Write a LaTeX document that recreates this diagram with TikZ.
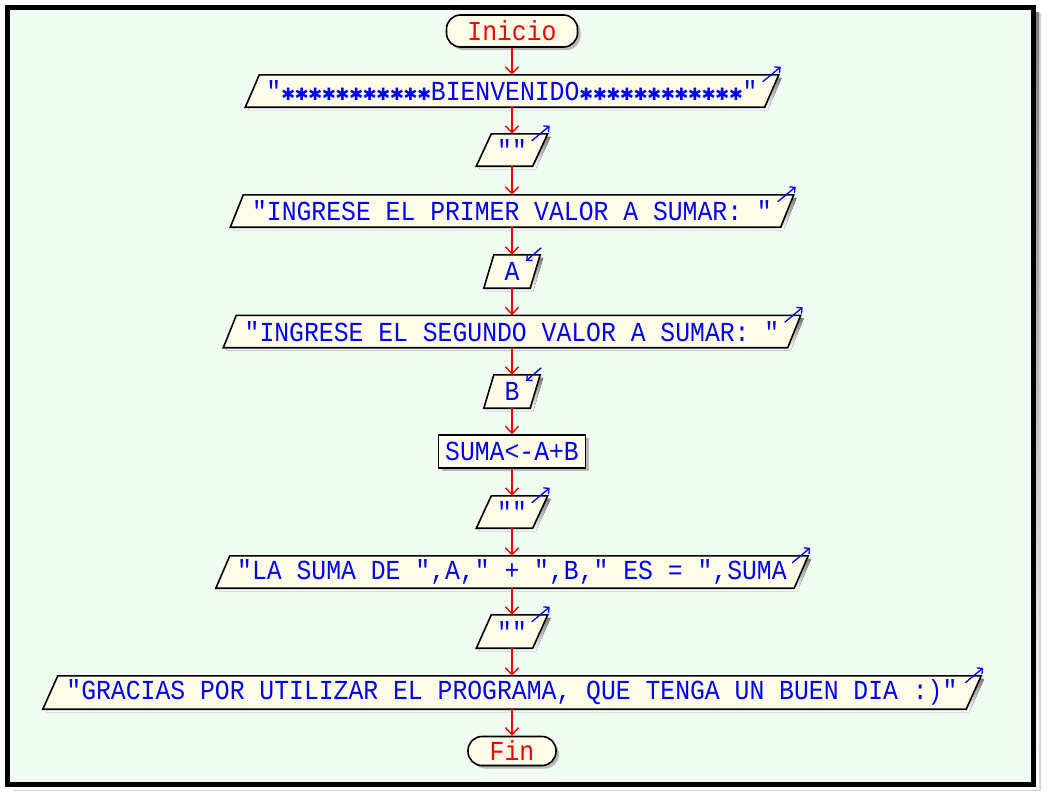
\documentclass[tikz,border=0pt]{standalone}
\usepackage{fontspec}
\newfontfamily\pfont[FakeStretch=0.9]{Liberation Mono}
\newfontfamily\djv{DejaVu Sans}
\usetikzlibrary{arrows.meta,calc,shadows}
\definecolor{mint}{HTML}{F0FCF2}
\definecolor{cream}{HTML}{FFFDE8}
\definecolor{pblue}{HTML}{0000F0}
\definecolor{pred}{HTML}{F00000}
\definecolor{shade}{HTML}{B8B8B8}
\pgfdeclarelayer{bg0}
\pgfdeclarelayer{shapes}
\pgfsetlayers{bg0,shapes,main}
\newcommand\pgram[2]{%
  \begin{pgfonlayer}{shapes}
  \fill[shade] ($(#1.south west)+(-#2+3,3)$) -- ($(#1.north west)+(#2+3,3)$) -- ($(#1.north east)+(#2+3,3)$) -- ($(#1.south east)+(-#2+3,3)$) -- cycle;
  \filldraw[boxline] ($(#1.south west)+(-#2,0)$) -- ($(#1.north west)+(#2,0)$) -- ($(#1.north east)+(#2,0)$) -- ($(#1.south east)+(-#2,0)$) -- cycle;
  \end{pgfonlayer}}
\newcommand\outicon[2]{\draw[icon] ($(#1.north east)+(#2-16,7)$) -- ($(#1.north east)+(#2+2,-8)$);}
\newcommand\inicon[2]{\draw[icon] ($(#1.north east)+(#2+1,-7)$) -- ($(#1.north east)+(#2-14,6)$);}
\newcommand\pstar{\makebox[13.6pt]{\djv\fontsize{17}{17}\selectfont\raisebox{0.5pt}{✱}}}
\begin{document}
\begin{tikzpicture}[x=1pt,y=-1pt,
  mono/.style={font=\pfont\fontsize{27.5}{27.5}\selectfont},
  io/.style={mono, inner sep=0pt, text=pblue, minimum height=32pt},
  boxline/.style={fill=cream, draw=black, line width=1.6pt, line join=miter},
  term/.style={mono, inner sep=0pt, text=pred, boxline, rounded corners=14pt,
    drop shadow={shadow xshift=3pt, shadow yshift=-3pt, fill=shade, opacity=1}},
  procbox/.style={io, boxline, sharp corners,
    drop shadow={shadow xshift=3pt, shadow yshift=-3pt, fill=shade, opacity=1}},
  flow/.style={draw=pred, line width=1.4pt, -{Straight Barb[length=7pt,width=13pt,line width=1.4pt]}},
  icon/.style={draw=pblue, line width=1.3pt, -{Straight Barb[length=4pt,width=8pt,line width=1.3pt]}}]
\useasboundingbox (0,0) rectangle (1051,798);
\begin{pgfonlayer}{bg0}
  \fill[white] (0,0) rectangle (1051,798);
  \fill[shade!60] (13,13) rectangle (1041,791);
  \fill[shade] (12,12) rectangle (1039,789);
  \filldraw[fill=mint, draw=black, line width=5.5pt] (7.5,7.5) rectangle (1033.5,784.5);
\end{pgfonlayer}

\node[term, minimum width=131pt, minimum height=32pt] (ini) at (512,31) {Inicio};
\node[io, minimum width=519pt] (bien) at (512,91) {"\pstar\pstar\pstar\pstar\pstar\pstar\pstar\pstar\pstar\pstar\pstar BIENVENIDO\pstar\pstar\pstar\pstar\pstar\pstar\pstar\pstar\pstar\pstar\pstar\pstar"};
\node[io, minimum width=56pt] (e1) at (512,150) {""};
\node[io, minimum width=550pt] (p1) at (512,211) {"INGRESE EL PRIMER VALOR A SUMAR: "};
\node[io, minimum width=46pt, minimum height=33pt] (ra) at (512,271.5) {A};
\node[io, minimum width=564pt] (p2) at (512,331.5) {"INGRESE EL SEGUNDO VALOR A SUMAR: "};
\node[io, minimum width=46pt, minimum height=33pt] (rb) at (512,391.5) {B};
\node[procbox, minimum width=147pt, minimum height=33pt] (suma) at (512,451.5) {SUMA<-A+B};
\node[io, minimum width=56pt] (e2) at (512,512) {""};
\node[io, minimum width=578pt] (res) at (512,572) {"LA SUMA DE ",A," + ",B," ES = ",SUMA};
\node[io, minimum width=56pt, minimum height=33pt] (e3) at (512,631.5) {""};
\node[io, minimum width=923pt, minimum height=33pt] (grac) at (512,692.5) {"GRACIAS POR UTILIZAR EL PROGRAMA, QUE TENGA UN BUEN DIA :)"};
\node[term, minimum width=88pt, minimum height=29pt] (fin) at (512,751) {Fin};

\pgram{bien}{7}\pgram{e1}{7.5}\pgram{p1}{6.5}\pgram{ra}{5}\pgram{p2}{6.5}\pgram{rb}{5}
\pgram{e2}{7.5}\pgram{res}{7}\pgram{e3}{7.5}\pgram{grac}{7.5}

\outicon{bien}{7}\outicon{e1}{7.5}\outicon{p1}{6.5}\inicon{ra}{5}\outicon{p2}{6.5}\inicon{rb}{5}
\outicon{e2}{7.5}\outicon{res}{7}\outicon{e3}{7.5}\outicon{grac}{7.5}

\draw[flow] (ini) -- (bien);
\draw[flow] (bien) -- (e1);
\draw[flow] (e1) -- (p1);
\draw[flow] (p1) -- (ra);
\draw[flow] (ra) -- (p2);
\draw[flow] (p2) -- (rb);
\draw[flow] (rb) -- (suma);
\draw[flow] (suma) -- (e2);
\draw[flow] (e2) -- (res);
\draw[flow] (res) -- (e3);
\draw[flow] (e3) -- (grac);
\draw[flow] (grac) -- (fin);
\end{tikzpicture}
\end{document}
